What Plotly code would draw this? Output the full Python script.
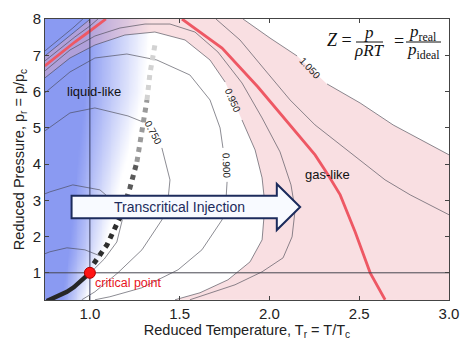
import numpy as np
import plotly.graph_objects as go

# ---------------- axis ranges / ticks ----------------
X_RANGE = [0.75, 3.0]
Y_RANGE = [0.25, 8.0]
X_TICKS = [1.0, 1.5, 2.0, 2.5, 3.0]
X_TICKTEXT = ["1.0", "1.5", "2.0", "2.5", "3.0"]
Y_TICKS = [1, 2, 3, 4, 5, 6, 7, 8]

# ---------------- contour lines of Z (T_r, p_r) ----------------
# None = gap where an inline label sits
Z0750_T = [0.749, 0.889, 1.028, 1.212, 1.295, None, 1.401, 1.446, 1.435, 1.401, 1.290, 1.156, 1.028, 0.955]
Z0750_P = [4.913, 5.409, 5.547, 5.326, 5.161, None, 4.444, 3.563, 3.012, 2.460, 1.634, 1.000, 0.476, 0.256]

Z0900_T = [0.749, 0.889, 1.028, 1.206, 1.373, 1.557, 1.669, 1.725, 1.741, None, 1.764, 1.758, 1.736, 1.624, 1.491, 1.290, 1.111, 1.028]
Z0900_P = [5.960, 6.539, 6.924, 7.035, 6.869, 6.456, 5.767, 4.996, 4.444, None, 3.508, 3.012, 2.460, 1.634, 1.083, 0.587, 0.339, 0.256]

Z0950_T = [0.749, 0.889, 1.028, 1.195, 1.362, 1.530, 1.669, 1.753, None, 1.847, 1.920, 1.959, 1.975, 1.959, 1.892, 1.769, 1.613, 1.474]
Z0950_P = [6.373, 6.924, 7.283, 7.558, 7.641, 7.421, 6.869, 6.263, None, 5.216, 4.389, 3.618, 2.874, 1.909, 1.303, 0.807, 0.449, 0.256]

Z0975_T = [0.749, 0.889, 1.028, 1.167, 1.307, 1.446, 1.585, 1.713, 1.847, 1.959, 2.059, 2.120, 2.143, 2.126, 2.076, 1.959, 1.808, 1.641, 1.557]
Z0975_P = [6.566, 7.145, 7.531, 7.751, 7.861, 7.861, 7.641, 7.090, 6.236, 5.271, 4.334, 3.425, 2.736, 1.992, 1.413, 1.028, 0.669, 0.394, 0.256]

Z1000L_T = [0.749, 0.833, 0.916, 1.000, 1.072, 1.089]
Z1000L_P = [6.704, 7.035, 7.365, 7.669, 7.944, 8.000]
Z1000R_T = [1.513, 1.736, 1.936, 2.115, 2.254, 2.327, 2.394, 2.477, 2.561, 2.644]
Z1000R_P = [8.000, 7.200, 6.125, 5.078, 4.251, 3.700, 3.149, 2.130, 1.000, 0.256]

Z1025L_T = [0.749, 0.833, 0.916, 1.000, 1.045]
Z1025L_P = [6.842, 7.173, 7.503, 7.806, 8.000]
Z1025R_T = [1.702, 1.836, 1.975, 2.115, 2.254, 2.394, 2.505, 2.644, 2.784, 3.001]
Z1025R_P = [8.000, 7.421, 6.594, 5.767, 5.078, 4.527, 4.114, 3.563, 3.149, 2.598]

Z1050L_T = [0.749, 0.833, 0.916, 0.989, 1.000]
Z1050L_P = [6.980, 7.310, 7.641, 7.944, 8.000]
Z1050R_T = [1.853, 2.003, 2.154, None, 2.321, 2.505, 2.689, 2.878, 3.001]
Z1050R_P = [8.000, 7.476, 6.980, None, 6.208, 5.684, 5.078, 4.582, 4.251]

Z1075L_T = [0.749, 0.833, 0.905, 0.961]
Z1075L_P = [7.117, 7.448, 7.751, 8.000]

ZLOW_A_T = [0.749, 0.777, 0.905, 1.056, 1.140, 1.180, 1.150, 1.080, 1.015]
ZLOW_A_P = [3.177, 3.232, 3.425, 3.287, 2.929, 2.450, 1.850, 1.380, 1.060]
ZLOW_B_T = [0.749, 0.777, 0.872, 0.972, 1.056]
ZLOW_B_P = [1.524, 1.579, 1.689, 1.634, 1.468]

# saturation (vapour-pressure) curve and Widom line
SAT_T = [0.760, 0.777, 0.830, 0.872, 0.910, 0.944, 0.975, 1.000]
SAT_P = [0.220, 0.256, 0.360, 0.476, 0.600, 0.750, 0.880, 1.000]
WIDOM_T = [1.000, 1.017, 1.095, 1.167, 1.223, 1.262, 1.290, 1.318, 1.334, 1.362]
WIDOM_P = [1.000, 1.220, 1.770, 2.520, 3.340, 4.060, 5.020, 5.770, 6.480, 7.280]
CRIT_T = [1.0]
CRIT_P = [1.0]

# contour labels
LABELS = ["0.750", "0.900", "0.950", "1.050"]
LABEL_T = [1.351, 1.758, 1.792, 2.221]
LABEL_P = [4.858, 3.948, 5.767, 6.649]
LABEL_ANGLE = [62, 88, 66, 47]

# blue "liquid-like" shading: where the fade reaches white, per pressure
GRAD_P = [0.25, 1.0, 1.6, 3.3, 6.0, 8.0]
GRAD_T_END = [0.98, 1.03, 1.08, 1.16, 1.30, 1.34]

# arrow geometry (data units)
ARROW_T0, ARROW_THEAD, ARROW_TIP = 0.898, 2.041, 2.171
ARROW_PMID, ARROW_BODY_HALF, ARROW_HEAD_HALF = 2.815, 0.307, 0.634

GRAY = "rgba(70,70,80,0.62)"
RED = "rgb(238,88,100)"
NAVY = "#1c2b5c"
BLUE = (138, 154, 242)


def clean(a):
    return [v for v in a if v is not None]


fig = go.Figure()

# ---- blue gradient (background styling) ----
gt = np.arange(0.70, 1.45, 0.01)
gp = np.arange(0.0, 8.6, 0.25)
tend = np.interp(gp, GRAD_P, GRAD_T_END)
s = (gt[None, :] - X_RANGE[0]) / (tend[:, None] - X_RANGE[0])
alpha = np.clip((1 - s) / 0.6, 0, 1)
fig.add_trace(go.Heatmap(
    x=gt, y=gp, z=alpha, zmin=0, zmax=1, zsmooth="best", showscale=False, hoverinfo="skip",
    colorscale=[[0, "rgba(%d,%d,%d,0)" % BLUE], [1, "rgba(%d,%d,%d,1)" % BLUE]]))

# ---- pink band 0.95 < Z < 1.05 ----
poly_t = Z1050L_T + clean(Z1050R_T) + [X_RANGE[1]] + clean(Z0950_T)[::-1]
poly_p = Z1050L_P + clean(Z1050R_P) + [Y_RANGE[0]] + clean(Z0950_P)[::-1]
fig.add_trace(go.Scatter(x=poly_t, y=poly_p, mode="none", fill="toself",
                         fillcolor="rgba(240,170,178,0.38)", hoverinfo="skip"))

# ---- thin contour lines ----
for ts, ps in [(Z0750_T, Z0750_P), (Z0900_T, Z0900_P), (Z0950_T, Z0950_P), (Z0975_T, Z0975_P),
               (Z1025L_T, Z1025L_P), (Z1025R_T, Z1025R_P), (Z1050L_T, Z1050L_P),
               (Z1050R_T, Z1050R_P), (Z1075L_T, Z1075L_P), (ZLOW_A_T, ZLOW_A_P), (ZLOW_B_T, ZLOW_B_P)]:
    fig.add_trace(go.Scatter(x=ts, y=ps, mode="lines", line=dict(color=GRAY, width=1),
                             hoverinfo="skip", connectgaps=False))

# ---- Z = 1 lines ----
for ts, ps in [(Z1000L_T, Z1000L_P), (Z1000R_T, Z1000R_P)]:
    fig.add_trace(go.Scatter(x=ts, y=ps, mode="lines", line=dict(color=RED, width=2.8), hoverinfo="skip"))

# ---- reference lines T=1, p=1 ----
fig.add_trace(go.Scatter(x=X_RANGE, y=[CRIT_P[0], CRIT_P[0]], mode="lines",
                         line=dict(color="rgb(70,70,80)", width=1), hoverinfo="skip"))
fig.add_trace(go.Scatter(x=[CRIT_T[0], CRIT_T[0]], y=Y_RANGE, mode="lines",
                         line=dict(color="rgb(55,60,95)", width=1), hoverinfo="skip"))

# ---- saturation curve ----
fig.add_trace(go.Scatter(x=SAT_T, y=SAT_P, mode="lines", line=dict(color="#262626", width=4.5),
                         hoverinfo="skip"))

# ---- Widom line, fading upward ----
segs = [(0, 4, "#2e2e2e"), (3, 6, "#5a5a5a"), (5, 8, "#9a9a9a"), (7, 10, "#d2d2d2")]
for a, b, c in segs:
    fig.add_trace(go.Scatter(x=WIDOM_T[a:b], y=WIDOM_P[a:b], mode="lines",
                             line=dict(color=c, width=5, dash="dot"), hoverinfo="skip"))

# ---- critical point ----
fig.add_trace(go.Scatter(x=CRIT_T, y=CRIT_P, mode="markers",
                         marker=dict(size=11, color="#ff1414", line=dict(color="#b00000", width=1)),
                         hoverinfo="skip"))

# ---- arrow ----
pm, bh, hh = ARROW_PMID, ARROW_BODY_HALF, ARROW_HEAD_HALF
path = (f"M {ARROW_T0},{pm-bh} L {ARROW_THEAD},{pm-bh} L {ARROW_THEAD},{pm-hh} "
        f"L {ARROW_TIP},{pm} L {ARROW_THEAD},{pm+hh} L {ARROW_THEAD},{pm+bh} L {ARROW_T0},{pm+bh} Z")
shapes = [dict(type="path", path=path, xref="x", yref="y", fillcolor="rgb(248,250,255)",
               line=dict(color=NAVY, width=2), layer="above")]


def paper_x(px):
    return (px - 45) / 404


def paper_y(py):
    return (300 - py) / 281


# fraction bars of the formula
for x0, x1 in [(356, 383), (406, 441)]:
    shapes.append(dict(type="line", xref="paper", yref="paper", x0=paper_x(x0), x1=paper_x(x1),
                       y0=paper_y(42), y1=paper_y(42), line=dict(color="#111", width=1)))

annotations = []
annotations.append(dict(x=(ARROW_T0 + ARROW_THEAD) / 2 + 0.03, y=pm, xref="x", yref="y",
                        text="Transcritical Injection", showarrow=False,
                        font=dict(size=14, color=NAVY)))
annotations.append(dict(x=1.025, y=5.99, xref="x", yref="y", text="liquid-like", showarrow=False,
                        font=dict(size=13, color="#111")))
annotations.append(dict(x=2.324, y=3.70, xref="x", yref="y", text="gas-like", showarrow=False,
                        font=dict(size=13, color="#111")))
annotations.append(dict(x=1.017, y=0.724, xref="x", yref="y", text="critical point", showarrow=False,
                        xanchor="left", font=dict(size=12.5, color="#e8141e")))
for txt, t, p, ang in zip(LABELS, LABEL_T, LABEL_P, LABEL_ANGLE):
    annotations.append(dict(x=t, y=p, xref="x", yref="y", text=txt, showarrow=False, textangle=ang,
                            font=dict(size=10, color="#222")))

SERIF = "Liberation Serif, DejaVu Serif, serif"
formula = [
    ("<i>Z</i> =", 339, 40, 18),
    ("<i>p</i>", 369, 33, 17),
    ("<i>ρRT</i>", 369, 51, 17),
    ("=", 399, 41, 18),
    ("<i>p</i><sub>real</sub>", 423, 33, 17),
    ("<i>p</i><sub>ideal</sub>", 423, 51, 17),
]
for txt, px, py, fs in formula:
    annotations.append(dict(x=paper_x(px), y=paper_y(py), xref="paper", yref="paper", text=txt,
                            xanchor="center", yanchor="middle",
                            showarrow=False, font=dict(family=SERIF, size=fs, color="#111")))

fig.update_layout(
    width=474, height=348, margin=dict(l=45, r=25, t=19, b=48, autoexpand=False),
    paper_bgcolor="white", plot_bgcolor="white", showlegend=False,
    font=dict(family="Liberation Sans, Arial, sans-serif", size=15, color="#222"),
    shapes=shapes, annotations=annotations,
)
fig.update_xaxes(range=X_RANGE, tickvals=X_TICKS, ticktext=X_TICKTEXT, ticks="inside", ticklen=4,
                 tickcolor="#444", mirror="ticks", showline=True, linecolor="#444", linewidth=1,
                 showgrid=False, zeroline=False, automargin=False,
                 title=dict(text="Reduced Temperature, T<sub>r</sub> = T/T<sub>c</sub>",
                            font=dict(size=14.5), standoff=2))
fig.update_yaxes(range=Y_RANGE, tickvals=Y_TICKS, ticks="inside", ticklen=4, tickcolor="#444",
                 mirror="ticks", showline=True, linecolor="#444", linewidth=1,
                 showgrid=False, zeroline=False, automargin=False,
                 title=dict(text="Reduced Pressure, p<sub>r</sub> = p/p<sub>c</sub>",
                            font=dict(size=14.5), standoff=4))

fig.write_html("out.html")
